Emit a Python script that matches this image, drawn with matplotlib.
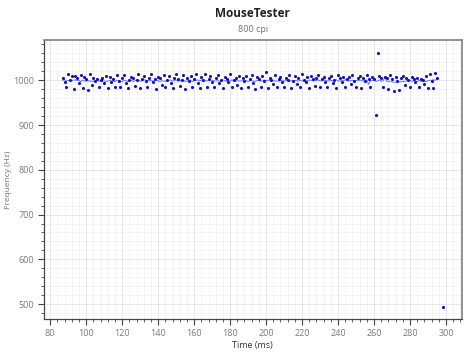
import numpy as np
import pandas as pd
import matplotlib
matplotlib.use("Agg")
import matplotlib.pyplot as plt
from matplotlib.ticker import MultipleLocator

plt.rcParams['font.family'] = ['Open Sans', 'DejaVu Sans']

# time stamps (ms) of the regular 1 ms reports
times = np.arange(87, 296)
freq = [
    1005, 996, 984, 1014, 1000, 1009, 980, 1010, 1004, 993, 1012, 983, 1008, 1002, 979, 1013, 990, 1006, 999, 1003,
    985, 1001, 1004, 994, 1009, 982, 1008, 997, 1002, 986, 1012, 999, 984, 1004, 1011, 995, 982, 1001, 1008, 1006,
    988, 1000, 1013, 983, 1003, 1010, 998, 984, 1005, 1014, 996, 1002, 980, 1007, 1004, 990, 1012, 985, 1001, 1009,
    995, 983, 1006, 1014, 1002, 987, 1000, 1012, 981, 1004, 998, 1010, 985, 1003, 1015, 994, 983, 1007, 1001, 1013,
    986, 1002, 1009, 997, 984, 1005, 1011, 993, 1000, 982, 1008, 1003, 996, 1013, 984, 1001, 1006, 990, 1010, 982,
    1004, 999, 1009, 985, 1003, 1012, 994, 981, 1007, 1002, 986, 1010, 998, 1018, 983, 1005, 1000, 991, 1011, 984,
    1003, 1008, 997, 985, 1006, 1001, 1012, 983, 999, 1009, 992, 1004, 984, 1013, 1000, 996, 1007, 983, 1010, 1002,
    988, 1005, 1012, 984, 1003, 1008, 997, 986, 1006, 1010, 993, 1001, 983, 1011, 1004, 996, 1008, 984, 1002, 1007,
    991, 1012, 999, 985, 1004, 1009, 983, 1006, 998, 1011, 1002, 986, 1007, 1003, 922, 1062, 1009, 1004, 985, 1008,
    1006, 980, 1011, 1002, 976, 1007, 998, 978, 1004, 1009, 990, 1006, 1001, 985, 1008, 1003, 996, 1005, 984, 1002,
    1000, 992, 1010, 983, 1015, 999, 982, 1016, 1004,
]
# late report after a 2 ms gap
late_time = [298.3]
late_freq = [494]

fig = plt.figure(figsize=(4.74, 3.55), dpi=100)
ax = fig.add_axes([0.0918, 0.1006, 0.8822, 0.7867])

# moving average line
avg = pd.Series(freq).rolling(9, center=True, min_periods=1).mean()
ax.plot(times, avg, color='#4a66ff', lw=0.6, zorder=2)

ax.scatter(times, freq, s=5, color='#1010c8', linewidths=0, zorder=3)
ax.scatter(late_time, late_freq, s=5, color='#1010c8', linewidths=0, zorder=3)

ax.set_xlim(76.3, 308.7)
ax.set_ylim(466, 1090)
ax.xaxis.set_major_locator(MultipleLocator(20))
ax.xaxis.set_minor_locator(MultipleLocator(4))
ax.yaxis.set_major_locator(MultipleLocator(100))
ax.yaxis.set_minor_locator(MultipleLocator(20))

ax.grid(which='major', color='#e2e2e2', lw=0.6)
ax.grid(which='minor', color='#efefef', lw=0.5)
ax.set_axisbelow(True)

for s in ['left', 'bottom']:
    ax.spines[s].set_color('#444444')
    ax.spines[s].set_linewidth(0.9)
for s in ['top', 'right']:
    ax.spines[s].set_color('#8a8a8a')
    ax.spines[s].set_linewidth(1.3)

ax.tick_params(which='major', length=4, width=0.8, color='#444444', labelsize=6.5, labelcolor='#7a7a7a', pad=3)
ax.tick_params(which='minor', length=2, width=0.6, color='#444444')

ax.set_xlabel('Time (ms)', fontsize=6.5, color='#333333', labelpad=2)
ax.set_ylabel('Frequency (Hz)', fontsize=6, color='#707070')
ax.yaxis.set_label_coords(-0.075, 0.5)

fig.text(0.533, 0.963, 'MouseTester', ha='center', va='center', fontsize=8.5, fontweight='bold', color='#222222')
fig.text(0.533, 0.918, '800 cpi', ha='center', va='center', fontsize=6.5, color='#707070')

fig.savefig('out.png', dpi=100)
